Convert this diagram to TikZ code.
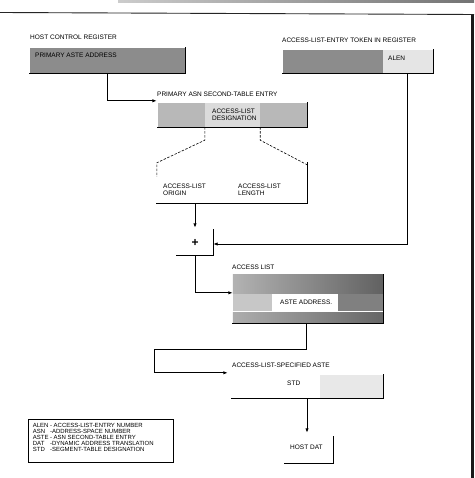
\documentclass[tikz,border=0pt]{standalone}
\usepackage{fontspec}
\setmainfont{Liberation Sans}
\usetikzlibrary{arrows.meta,calc}
\tikzset{
  lbl/.style={font=\fontsize{6.5}{6.6}\selectfont, inner sep=0pt, anchor=west, align=left},
  reg/.style={rectangle, inner sep=0pt, draw=none},
  boxedge/.style={line width=1.3pt, line join=miter, line cap=rect},
  wire/.style={line width=1pt, line join=miter},
  conn/.style={wire, -{Latex[length=4.5pt,width=3.4pt]}},
  dashwire/.style={line width=0.6pt, dash pattern=on 2.5pt off 1.5pt},
}
\begin{document}
\begin{tikzpicture}[x=1pt,y=-1pt]
\useasboundingbox (0,0) rectangle (474,478);
\fill[white] (0,0) rectangle (474,478);
% scan frame
\shade[left color=black!20, right color=black!55] (118,0) rectangle (474,2.5);
\draw[line width=0.9pt, black!85] (0,12.5) -- (474,14.5);
\fill[black!90] (471.3,15) rectangle (474,478);

% ---- regions (nodes) ----
\node[reg, minimum width=155pt, minimum height=25pt] (hcr) at (107.5,60.5) {};
\node[reg, minimum width=150pt, minimum height=23pt] (alen) at (358,61.5) {};
\node[reg, minimum width=149pt, minimum height=24pt] (aste1) at (232.5,115) {};
\node[reg, minimum width=150pt, minimum height=40pt] (ald) at (232,183) {};
\node[reg, minimum width=36pt, minimum height=25pt] (adder) at (195,242.5) {};
\node[reg, minimum width=150pt, minimum height=48pt] (al) at (308,299) {};
\node[reg, minimum width=151pt, minimum height=23pt] (std) at (307.5,386.5) {};
\node[reg, minimum width=48pt, minimum height=26pt] (hdat) at (309,450) {};
\node[reg, draw, line width=0.6pt, minimum width=145pt, minimum height=43pt] (legend) at (100.5,440.5) {};

% ---- shading ----
\fill[black!45] (hcr.north west) rectangle (hcr.south east);
\fill[black!45] (alen.north west) rectangle ($(alen.south west)+(100,0)$);
\fill[black!10] ($(alen.north west)+(100,0)$) rectangle (alen.south east);
\fill[black!28] (aste1.north west) rectangle ($(aste1.south west)+(47,0)$);
\fill[black!14] ($(aste1.north west)+(47,0)$) rectangle ($(aste1.south east)+(-47,0)$);
\fill[black!28] ($(aste1.north east)+(-47,0)$) rectangle (aste1.south east);
\shade[left color=black!30, right color=black!62] (al.north west) rectangle ($(al.north east)+(0,19)$);
\fill[black!22] ($(al.north west)+(0,19)$) rectangle ($(al.north west)+(39,36)$);
\fill[black!50] ($(al.north east)+(-45,19)$) rectangle ($(al.north east)+(0,36)$);
\shade[left color=black!32, right color=black!60] ($(al.north west)+(0,38)$) rectangle (al.south east);
\fill[black!9] ($(std.north east)+(-63,0)$) rectangle (std.south east);

% ---- box edges ----
\draw[boxedge] (hcr.north east) -- (hcr.south east) -- (hcr.south west);
\draw[boxedge] (alen.north east) -- (alen.south east) -- (alen.south west);
\draw[boxedge] (aste1.north east) -- (aste1.south east) -- (aste1.south west);
\draw[boxedge] (ald.north east) -- (ald.south east) -- (ald.south west);
\draw[boxedge] (adder.north east) -- (adder.south east) -- (adder.south west);
\draw[boxedge] (al.north east) -- (al.south east) -- (al.south west);
\draw[boxedge] (std.north east) -- (std.south east) -- (std.south west);
\draw[boxedge] (hdat.north east) -- (hdat.south east) -- (hdat.south west);

% ---- expansion of the designation ----
\draw[dashwire] ($(aste1.south west)+(47,0)$) -- ++(0,13) -- (ald.north west) -- ++(0,14);
\draw[dashwire] ($(aste1.south east)+(-47,0)$) -- ++(0,13) -- ($(ald.north east)+(0,2)$);

% ---- connectors ----
\draw[conn] (hcr.south) |- ($(aste1.north west)+(-1,-2)$);
\draw[conn] (ald.south -| adder.north) -- ($(adder.north)+(0,-2)$);
\draw[conn] ($(alen.south east)+(-26,0)$) |- ($(adder.east)+(0,1.5)$);
\draw[conn] (adder.south) |- ($(al.north west)+(0,18)$);
\draw[conn] ($(al.south west)+(74,0)$) |- ++(-152,26) |- ($(std.north west)+(-4,-2)$);
\draw[conn] (std.south -| 307,0) -- ($(hdat.north -| 307,0)+(0,-4)$);

% ---- labels ----
\node[lbl] (t1) at (30,37) {HOST CONTROL REGISTER};
\node[lbl] (t2) at (35,55) {PRIMARY ASTE ADDRESS};
\node[lbl] (t3) at (282,40) {ACCESS-LIST-ENTRY TOKEN IN REGISTER};
\node[lbl] (t4) at (388,58) {ALEN};
\node[lbl] (t5) at (157,94) {PRIMARY ASN SECOND-TABLE ENTRY};
\node[lbl] (t6) at (212,114.5) {ACCESS-LIST\\DESIGNATION};
\node[lbl] (t7) at (163,190) {ACCESS-LIST\\ORIGIN};
\node[lbl] (t8) at (238,190) {ACCESS-LIST\\LENGTH};
\node[font=\fontsize{12}{12}\selectfont\bfseries, inner sep=0pt] (plus) at (195,243) {+};
\node[lbl] (t9) at (232,267) {ACCESS LIST};
\node[lbl] (t10) at (280,302.5) {ASTE ADDRESS.};
\node[lbl] (t11) at (232,365) {ACCESS-LIST-SPECIFIED ASTE};
\node[lbl] (t12) at (287,383) {STD};
\node[lbl] (t13) at (290,447) {HOST DAT};
\node[lbl, font=\fontsize{6}{6.1}\selectfont] (leg) at ($(legend.west)+(5,-2)$) {%
\begin{tabular}{@{}l@{\hspace{1.5pt}}l@{}}
ALEN & - ACCESS-LIST-ENTRY NUMBER\\
ASN & -ADDRESS-SPACE NUMBER\\
ASTE & - ASN SECOND-TABLE ENTRY\\
DAT & -DYNAMIC ADDRESS TRANSLATION\\
STD & -SEGMENT-TABLE DESIGNATION
\end{tabular}};
\end{tikzpicture}
\end{document}
